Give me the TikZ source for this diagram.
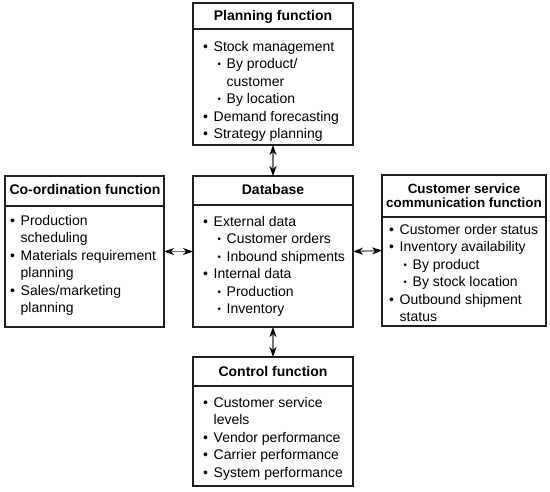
\documentclass[tikz,border=0pt]{standalone}
\usepackage{fontspec}
\setmainfont{Liberation Sans}
\usepackage{graphicx}
\usetikzlibrary{arrows.meta}
\newcommand\Bm{\makebox[10.5pt][l]{\textbullet}}
\newcommand\Sb{\hspace*{14.5pt}\makebox[9pt][l]{\raisebox{1.3pt}{\scalebox{0.7}{\textbullet}}}}
\newcommand\Cm{\hspace*{10.5pt}}
\newcommand\Cs{\hspace*{23.5pt}}
\begin{document}
\begin{tikzpicture}[x=1pt,y=-1pt,
  box/.style={draw=black!88, line width=1.3pt, inner sep=0pt, outer sep=0pt, anchor=north west},
  sep/.style={draw=black!88, line width=1.1pt},
  ttl/.style={font=\bfseries\fontsize{14}{14.3}\selectfont, inner sep=0pt, anchor=base, align=center},
  body/.style={font=\fontsize{14}{17.5}\selectfont, inner sep=0pt, anchor=north west, align=left},
  tip/.style={Stealth[length=10pt,width=7pt,inset=3pt,black]},
  dbl/.style={draw=black!55, line width=1.4pt, {Stealth[length=10pt,width=7pt,inset=3pt,black]}-{Stealth[length=10pt,width=7pt,inset=3pt,black]}}]
\useasboundingbox (0,0) rectangle (550,491);
% boxes
\node[box, minimum width=160pt, minimum height=142pt] (plan) at (193,3) {};
\node[box, minimum width=160pt, minimum height=151pt] (db) at (193,176) {};
\node[box, minimum width=159pt, minimum height=151pt] (coord) at (5,176) {};
\node[box, minimum width=164pt, minimum height=151pt] (cust) at (382,175) {};
\node[box, minimum width=160pt, minimum height=129pt] (ctrl) at (193,357) {};
% separators
\draw[sep] (plan.west |- 0,29) -- (plan.east |- 0,29);
\draw[sep] (db.west |- 0,205) -- (db.east |- 0,205);
\draw[sep] (coord.west |- 0,206) -- (coord.east |- 0,206);
\draw[sep] (cust.west |- 0,217) -- (cust.east |- 0,217);
\draw[sep] (ctrl.west |- 0,386) -- (ctrl.east |- 0,386);
% titles
\node[ttl] (planT) at (273,20) {Planning function};
\node[ttl] (dbT) at (273,194) {Database};
\node[ttl] (coordT) at (85,194) {Co-ordination function};
\node[ttl, anchor=center, font=\bfseries\fontsize{13.4}{14.3}\selectfont] (custT) at (464,196) {Customer service\\communication function};
\node[ttl] (ctrlT) at (273,376) {Control function};
% bodies
\node[body] (planB) at (203,41) {\Bm Stock management\\ \Sb By product/\\ \Cs customer\\ \Sb By location\\ \Bm Demand forecasting\\ \Bm Strategy planning};
\node[body] (dbB) at (203,216) {\Bm External data\\ \Sb Customer orders\\ \Sb Inbound shipments\\ \Bm Internal data\\ \Sb Production\\ \Sb Inventory};
\node[body] (coordB) at (10,215) {\Bm Production\\ \Cm scheduling\\ \Bm Materials requirement\\ \Cm planning\\ \Bm Sales/marketing\\ \Cm planning};
\node[body] (custB) at (389,224) {\Bm Customer order status\\ \Bm Inventory availability\\ \Sb By product\\ \Sb By stock location\\ \Bm Outbound shipment\\ \Cm status};
\node[body] (ctrlB) at (203,397) {\Bm Customer service\\ \Cm levels\\ \Bm Vendor performance\\ \Bm Carrier performance\\ \Bm System performance};
% connectors
\draw[dbl] (plan.south) -- (db.north);
\draw[dbl] (db.south) -- (ctrl.north);
\draw[dbl] (coord.east) -- (db.west);
\draw[dbl] (db.east) -- (cust.west);
\end{tikzpicture}
\end{document}
